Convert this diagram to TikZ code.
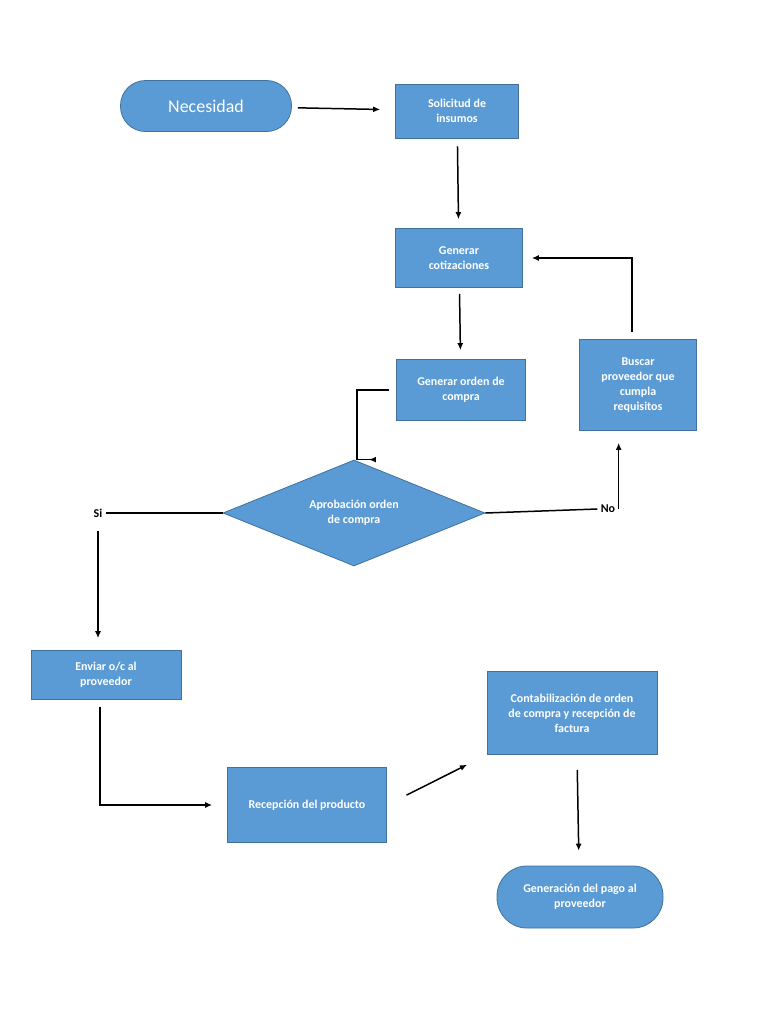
\documentclass[tikz,border=0pt]{standalone}
\usepackage{fontspec}
\setmainfont{Carlito}
\usetikzlibrary{shapes.geometric, arrows.meta, positioning}
\definecolor{boxblue}{HTML}{5B9BD5}
\definecolor{boxline}{HTML}{41719C}
\tikzset{
  box/.style={draw=boxline, fill=boxblue, text=white, font=\fontsize{12}{15}\selectfont\bfseries, align=center, line width=0.8pt, inner sep=2pt},
  pill/.style={box, rounded corners=25bp},
  flow/.style={line width=1.5pt, -{Latex[length=7pt,width=6pt]}},
  link/.style={line width=1.5pt},
  tag/.style={font=\fontsize{12}{15}\selectfont\bfseries}
}
\begin{document}
\begin{tikzpicture}[x=1bp, y=-1bp]
    \useasboundingbox (0,0) rectangle (768,1024);
    % inicio
    \node[pill, minimum width=171bp, minimum height=51bp, font=\fontsize{18}{22}\selectfont] (necesidad) at (206,106) {Necesidad};
    \node[box, minimum width=123bp, minimum height=54bp] (solicitud) at (457,111) {Solicitud de\\insumos};
    \node[box, minimum width=127bp, minimum height=59bp] (cotiz) at (459,258) {Generar\\cotizaciones};
    \node[box, minimum width=129bp, minimum height=61bp] (orden) at (461,390) {Generar orden de\\compra};
    \node[box, minimum width=117bp, minimum height=91bp] (buscar) at (638,385) {Buscar\\proveedor que\\cumpla\\requisitos};
    % decision
    \node[diamond, box, minimum width=262bp, minimum height=106bp, aspect=2.5, inner sep=0pt] (aprob) at (354,513) {Aprobación orden\\de compra};
    \node[tag] (si) at (98,513) {Si};
    \node[tag] (no) at (608,509) {No};
    % rama si
    \node[box, minimum width=150bp, minimum height=49bp] (enviar) at (106,675) {Enviar o/c al\\proveedor};
    \node[box, minimum width=159bp, minimum height=75bp] (recep) at (307,805) {Recepción del producto};
    \node[box, minimum width=170bp, minimum height=83bp] (contab) at (572,713) {Contabilización de orden\\de compra y recepción de\\factura};
    \node[pill, rounded corners=30bp, minimum width=166bp, minimum height=62bp] (pago) at (580,897) {Generación del pago al\\proveedor};
    % conectores
    \draw[flow, shorten <=6pt, shorten >=15pt] (necesidad) -- (solicitud);
    \draw[flow, shorten <=8pt, shorten >=9pt] (solicitud) -- (cotiz);
    \draw[flow, shorten <=6pt, shorten >=9pt] (cotiz) -- (orden);
    \draw[flow, shorten <=7pt, shorten >=15pt] (orden.west) -- ++(-39,0) |- (aprob.north);
    \draw[link] (aprob.west) -- (si.east);
    \draw[flow, shorten <=10pt, shorten >=12pt] (si.south) -- (enviar.north -| si.south);
    \draw[link] (aprob.east) -- (no.west);
    \draw[flow, shorten >=12pt] (no.east) -- ++(0,0) |- ++(0,0) -- (buscar.south -| no.east);
    \draw[flow, shorten <=7pt, shorten >=9pt] (buscar.north -| 632,0) |- (cotiz.east);
    \draw[flow, shorten <=7pt, shorten >=15pt] (enviar.south -| 100,0) |- (recep.west);
    \draw[flow, shorten <=22pt, shorten >=22pt] (recep.east) -- (contab.south west);
    \draw[flow, shorten <=15pt, shorten >=15pt] (contab.south -| 577,0) -- (pago.north -| 579,0);
\end{tikzpicture}
\end{document}
